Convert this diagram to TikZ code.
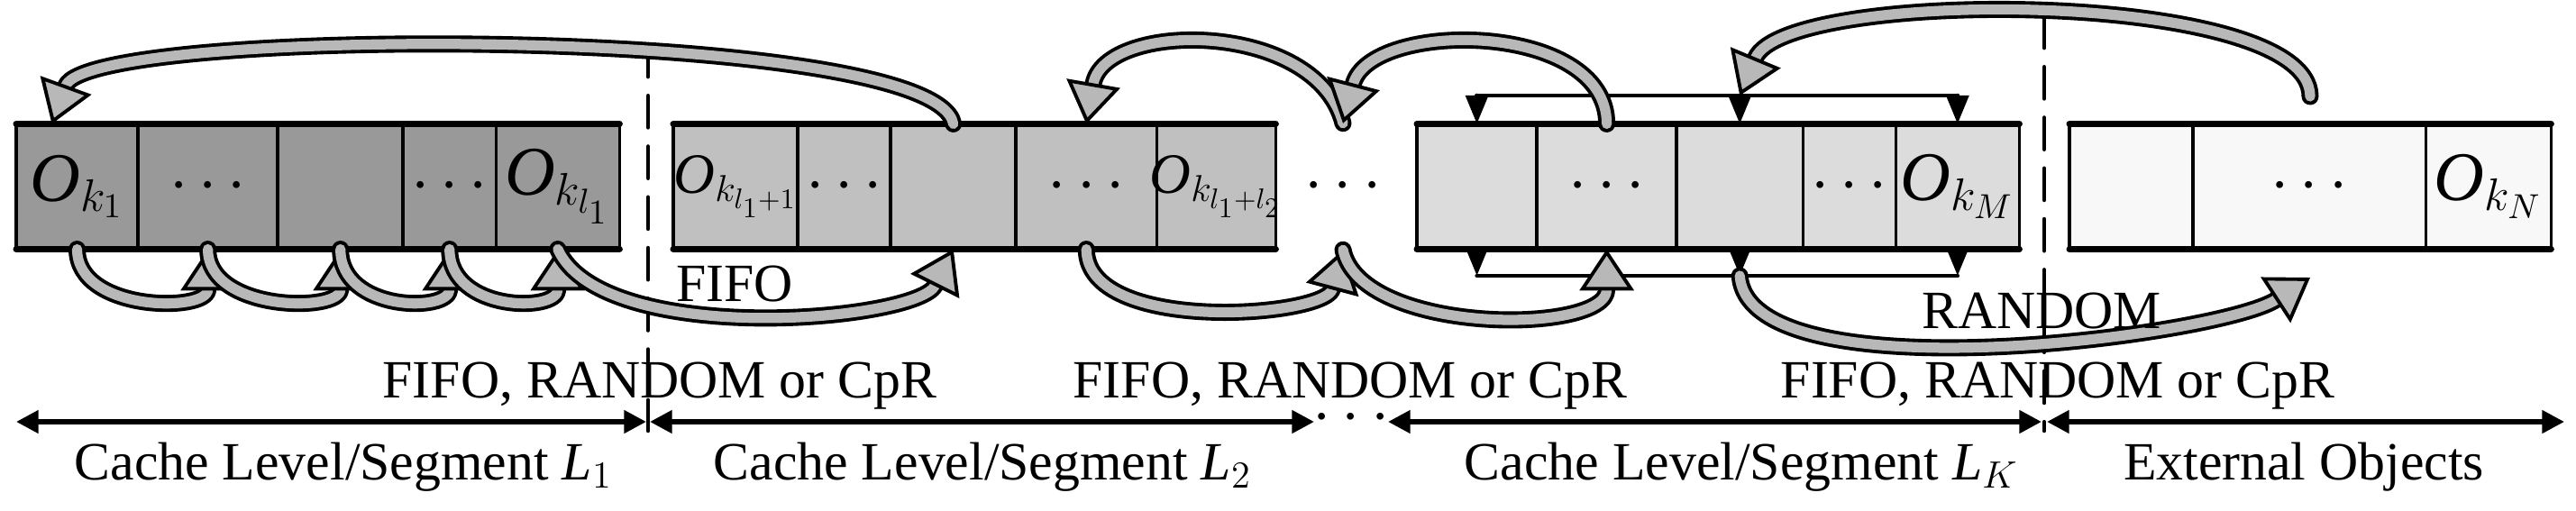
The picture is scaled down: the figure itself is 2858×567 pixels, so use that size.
\documentclass[tikz,border=0pt]{standalone}
\usepackage{fontspec}
\setmainfont{Liberation Serif}
\usetikzlibrary{arrows.meta,positioning}
\definecolor{levA}{HTML}{999999}
\definecolor{levB}{HTML}{C0C0C0}
\definecolor{levC}{HTML}{DCDCDC}
\definecolor{levD}{HTML}{F8F8F8}
\definecolor{arrfill}{HTML}{B8B8B8}
\tikzset{
  cell/.style={draw, line width=1pt, inner sep=0pt, outer sep=0pt, minimum height=1.39cm, fill=#1,
    font=\fontsize{22}{24}\selectfont},
  fat/.style={draw=black, line width=1.1pt, double=arrfill, double distance=3.2pt,
    -{Triangle[length=13pt, width=17pt, fill=arrfill, line width=1.1pt]}},
  tri/.style={line width=1.3pt, -{Triangle[length=9pt, width=7pt]}},
  dim/.style={line width=1.6pt, {Triangle[length=7pt,width=7pt]}-{Triangle[length=7pt,width=7pt]}},
  lbl/.style={font=\fontsize{17}{19}\selectfont, inner sep=0pt}
}
\newcommand{\Ok}[1]{\makebox[0pt]{\textit{O}$_{#1}$}}
\newcommand{\Okl}[1]{\makebox[0pt]{\scalebox{0.82}{\textit{O}$_{#1}$}}}
\begin{document}
\begin{tikzpicture}[x=0.01cm, y=-0.01cm, line cap=round, line join=round]
  \useasboundingbox (0,0) rectangle (2858,567);

  % level 1
  \node[cell=levA, minimum width=1.35cm, anchor=west] (a1) at (18,207) {\Ok{k_1}};
  \node[cell=levA, minimum width=1.55cm, right=0pt of a1] (a2) {$\cdots$};
  \node[cell=levA, minimum width=1.39cm, right=0pt of a2] (a3) {};
  \node[cell=levA, minimum width=1.03cm, right=0pt of a3] (a4) {$\cdots$};
  \node[cell=levA, minimum width=1.37cm, right=0pt of a4] (a5) {\Ok{k_{l_1}}};
  % level 2
  \node[cell=levB, minimum width=1.38cm, anchor=west] (b1) at (747,207) {\Okl{k_{l_1+1}}};
  \node[cell=levB, minimum width=1.03cm, right=0pt of b1] (b2) {$\cdots$};
  \node[cell=levB, minimum width=1.39cm, right=0pt of b2] (b3) {};
  \node[cell=levB, minimum width=1.56cm, right=0pt of b3] (b4) {$\cdots$};
  \node[cell=levB, minimum width=1.32cm, right=0pt of b4] (b5) {\Okl{k_{l_1+l_2}}};
  \node[font=\fontsize{22}{24}\selectfont, inner sep=0pt, minimum height=1.39cm] (gap) at (1490,207) {$\cdots$};
  % level K
  \node[cell=levC, minimum width=1.33cm, anchor=west] (c1) at (1572,207) {};
  \node[cell=levC, minimum width=1.55cm, right=0pt of c1] (c2) {$\cdots$};
  \node[cell=levC, minimum width=1.40cm, right=0pt of c2] (c3) {};
  \node[cell=levC, minimum width=1.03cm, right=0pt of c3] (c4) {$\cdots$};
  \node[cell=levC, minimum width=1.37cm, right=0pt of c4] (c5) {\Ok{k_M}};
  % external objects
  \node[cell=levD, minimum width=1.37cm, anchor=west] (d1) at (2296,207) {};
  \node[cell=levD, minimum width=2.58cm, right=0pt of d1] (d2) {$\cdots$};
  \node[cell=levD, minimum width=1.39cm, right=0pt of d2] (d3) {\Ok{k_N}};

  % thick top and bottom borders
  \foreach \s/\e in {a1/a5, b1/b5, c1/c5, d1/d3}
    \draw[line width=2pt] (\s.north west) -- (\e.north east) (\s.south west) -- (\e.south east);

  % segment borders
  \draw[line width=1.3pt, dash pattern=on 10pt off 6pt] (719,50) -- (719,478);
  \draw[line width=1.3pt, dash pattern=on 10pt off 6pt] (2268,18) -- (2268,478);

  % brackets of level K
  \coordinate (up) at (0,106);
  \coordinate (dn) at (0,306);
  \draw[line width=1.3pt] (c1 |- up) -- (c5 |- up);
  \draw[line width=1.3pt] (c1 |- dn) -- (c5 |- dn);
  \foreach \c in {c1,c3,c5} {
    \draw[tri] (\c |- up) -- (\c.north);
    \draw[tri] (\c.south) -- (\c |- dn);
  }
  \coordinate (extup) at (2563,107);
  \coordinate (extdn) at (2563,308);

  % moves inside level 1
  \foreach \s/\e in {a1/a2, a2/a3, a3/a4, a4/a5}
    \draw[fat] (\s.south) .. controls +(0,70) and +(0,70) .. (\e.south);
  \draw[fat] (b3.north) .. controls +(-20,-110) and +(40,-110) .. ([xshift=-0.28cm]a1.north);
  \draw[fat] (a5.south) .. controls +(50,110) and +(-40,80) .. (b3.south);
  % moves between levels
  \draw[fat] (b4.south) .. controls +(0,95) and +(-20,75) .. (gap.south);
  \draw[fat] (gap.south) .. controls +(20,95) and +(0,95) .. (c2.south);
  \draw[fat] (gap.north) .. controls +(-30,-115) and +(20,-115) .. (b4.north);
  \draw[fat] (c2.north) .. controls +(0,-115) and +(30,-115) .. (gap.north);
  \draw[fat] (c3 |- dn) .. controls +(10,135) and +(-100,65) .. (extdn);
  \draw[fat] (extup) .. controls +(0,-120) and +(50,-120) .. (c3 |- up);
  \node[lbl] (fifo) at (815,315) {FIFO};
  \node[lbl] (rand) at (2265,345) {RANDOM};

  % segment extents
  \coordinate (s0) at (18,468);
  \coordinate (s1) at (717,468);
  \coordinate (s2) at (721,468);
  \coordinate (s3) at (1458,468);
  \coordinate (s4) at (1540,468);
  \coordinate (s5) at (2265,468);
  \coordinate (s6) at (2271,468);
  \coordinate (s7) at (2845,468);
  \draw[dim] (s0) -- (s1);
  \draw[dim] (s2) -- (s3);
  \draw[dim] (s4) -- (s5);
  \draw[dim] (s6) -- (s7);
  \node[font=\fontsize{22}{24}\selectfont, inner sep=0pt] (sdots) at (1499,464) {$\cdots$};
  \node[lbl] (p1) at (732,428) {FIFO, RANDOM or CpR};
  \node[lbl] (p2) at (1498,428) {FIFO, RANDOM or CpR};
  \node[lbl] (p3) at (2283,428) {FIFO, RANDOM or CpR};
  \node[lbl] (n1) at (381,518) {Cache Level/Segment \textit{L}$_1$};
  \node[lbl] (n2) at (1090,518) {Cache Level/Segment \textit{L}$_2$};
  \node[lbl] (n3) at (1932,518) {Cache Level/Segment \textit{L}$_K$};
  \node[lbl] (n4) at (2556,518) {External Objects};
\end{tikzpicture}
\end{document}
